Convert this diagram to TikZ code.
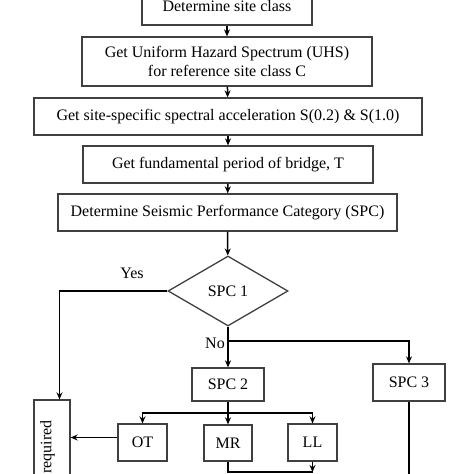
\documentclass[tikz,border=0pt]{standalone}
\usepackage{fontspec}
\setmainfont{Liberation Serif}
\usetikzlibrary{shapes.geometric,arrows.meta}
\begin{document}
\begin{tikzpicture}[x=1pt,y=-1pt,
  font=\fontsize{16}{19}\selectfont,
  box/.style={draw=black!75,line width=1.3pt,rectangle,inner sep=0pt,align=center},
  dec/.style={draw=black!75,line width=1.3pt,diamond,inner sep=0pt,minimum width=120pt,minimum height=70pt},
  arr/.style={draw=black,line width=1.5pt,-{Stealth[length=7pt,width=6pt]}},
  ln/.style={draw=black,line width=1.5pt},
  lbl/.style={inner sep=0pt}]
\useasboundingbox[fill=white] (0,0) rectangle (474,474);
\node[box,minimum width=170pt,minimum height=37pt] (b1) at (227,6.5) {Determine site class};
\node[box,minimum width=290pt,minimum height=49pt] (b2) at (227,61.5) {Get Uniform Hazard Spectrum (UHS)\\for reference site class C};
\node[box,minimum width=388pt,minimum height=37pt] (b3) at (228,116.5) {Get site-specific spectral acceleration S(0.2) \& S(1.0)};
\node[box,minimum width=290pt,minimum height=37pt] (b4) at (228,164.5) {Get fundamental period of bridge, T};
\node[box,minimum width=339pt,minimum height=37pt] (b5) at (227.5,212.5) {Determine Seismic Performance Category (SPC)};
\node[dec] (d1) at (228,291) {SPC 1};
\node[box,minimum width=72pt,minimum height=33pt] (s2) at (228,384.5) {SPC 2};
\node[box,minimum width=72pt,minimum height=37pt] (s3) at (409,382.5) {SPC 3};
\node[box,minimum width=36pt,minimum height=120pt] (req) at (52,460) {};
\node[lbl,rotate=90,anchor=east] (reqt) at (47.5,420) {required};
\node[box,minimum width=49pt,minimum height=37pt] (ot) at (142.5,442.5) {OT};
\node[box,minimum width=48pt,minimum height=36pt] (mr) at (228,443) {MR};
\node[box,minimum width=49pt,minimum height=37pt] (ll) at (312.5,442.5) {LL};
\node[lbl] (yes) at (132,273) {Yes};
\node[lbl] (no) at (215,343) {No};
\coordinate (nobr) at (228,341);
\coordinate (sbr) at (228,413);
\coordinate (mrj) at (228,472);
\coordinate (llj) at (312.5,472);
\coordinate (s3end) at (409,490);
\draw[arr] (b1) -- (b2);
\draw[arr] (b2) -- (b3);
\draw[arr] (b3) -- (b4);
\draw[arr] (b4) -- (b5);
\draw[arr] (b5) -- (d1);
\draw[arr] (d1.west) -| ([xshift=7.5pt]req.north);
\draw[arr] (d1.south) -- (s2.north);
\draw[arr] (nobr) -| (s3.north);
\draw[ln] (s3.south) -- (s3end);
\draw[ln] (s2.south) -- (sbr);
\draw[arr] (sbr) -| (ot.north);
\draw[arr] (sbr) -- (mr.north);
\draw[arr] (sbr) -| (ll.north);
\draw[arr] ([yshift=5pt]ot.west) -- ([yshift=5pt]ot.west -| req.east);
\draw[ln] (mr.south) -- (mrj) -- (llj);
\draw[arr] (ll.south) -- (llj);
\end{tikzpicture}
\end{document}
